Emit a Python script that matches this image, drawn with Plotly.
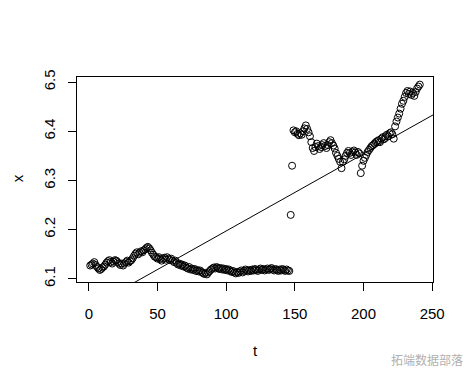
import numpy as np
import plotly.graph_objects as go

x_values = [
    6.127, 6.129, 6.131, 6.134, 6.128, 6.124, 6.121, 6.118, 6.120, 6.123,
    6.125, 6.129, 6.133, 6.136, 6.138, 6.134, 6.131, 6.135, 6.138, 6.137,
    6.134, 6.131, 6.128, 6.131, 6.127, 6.131, 6.134, 6.137, 6.133, 6.136,
    6.138, 6.142, 6.147, 6.151, 6.154, 6.150, 6.153, 6.156, 6.154, 6.158,
    6.160, 6.163, 6.165, 6.162, 6.158, 6.153, 6.149, 6.145, 6.144, 6.141,
    6.144, 6.140, 6.137, 6.141, 6.143, 6.139, 6.144, 6.141, 6.138, 6.141,
    6.137, 6.134, 6.137, 6.132, 6.129, 6.131, 6.127, 6.129, 6.125, 6.127,
    6.123, 6.121, 6.124, 6.119, 6.121, 6.118, 6.120, 6.116, 6.118, 6.115,
    6.117, 6.114, 6.112, 6.110, 6.112, 6.109, 6.113, 6.116, 6.119, 6.121,
    6.123, 6.121, 6.124, 6.122, 6.120, 6.122, 6.119, 6.121, 6.118, 6.120,
    6.117, 6.119, 6.116, 6.114, 6.116, 6.113, 6.111, 6.114, 6.112, 6.115,
    6.117, 6.113, 6.116, 6.119, 6.117, 6.115, 6.118, 6.116, 6.119, 6.117,
    6.120, 6.118, 6.116, 6.119, 6.121, 6.118, 6.120, 6.117, 6.119, 6.121,
    6.118, 6.120, 6.122, 6.119, 6.117, 6.120, 6.118, 6.116, 6.119, 6.117,
    6.120, 6.118, 6.116, 6.119, 6.117, 6.116,
    6.230, 6.330,
    6.402, 6.398, 6.400, 6.395, 6.392, 6.396, 6.393, 6.400, 6.406, 6.412, 6.405, 6.398,
    6.390, 6.378, 6.366, 6.360, 6.368, 6.375, 6.370, 6.364, 6.368, 6.372,
    6.376, 6.370, 6.366, 6.372, 6.378, 6.382, 6.376, 6.371, 6.365, 6.356,
    6.350, 6.344, 6.338, 6.325, 6.338, 6.343, 6.350, 6.356, 6.360, 6.356,
    6.352, 6.358, 6.361, 6.357, 6.352, 6.358, 6.355, 6.315, 6.330, 6.340,
    6.346, 6.352, 6.358, 6.362, 6.366, 6.370, 6.372, 6.375, 6.378, 6.380,
    6.382, 6.378, 6.385, 6.388, 6.384, 6.390, 6.393, 6.390, 6.396, 6.398,
    6.394, 6.385, 6.410, 6.420, 6.428, 6.436, 6.446, 6.456, 6.462, 6.470,
    6.478, 6.482, 6.476, 6.481, 6.474, 6.478, 6.472, 6.480, 6.487, 6.491, 6.495,
]
t_values = list(range(1, len(x_values) + 1))

x_ticks = [0, 50, 100, 150, 200, 250]
y_ticks = [6.1, 6.2, 6.3, 6.4, 6.5]
x_title = "t"
y_title = "x"
watermark = "拓端数据部落"

t_arr = np.array(t_values, dtype=float)
x_arr = np.array(x_values, dtype=float)
slope, intercept = np.polyfit(t_arr, x_arr, 1)

def r_range(v):
    lo, hi = float(np.min(v)), float(np.max(v))
    pad = 0.04 * (hi - lo)
    return [lo - pad, hi + pad]

xr = r_range(t_arr)
yr = r_range(x_arr)

line_t = [xr[0], xr[1]]
line_x = [intercept + slope * v for v in line_t]

font = "Liberation Sans, Arial, sans-serif"

fig = go.Figure()
fig.add_trace(go.Scatter(
    x=t_values, y=x_values, mode="markers",
    marker=dict(symbol="circle-open", size=7, color="black", line=dict(width=1, color="black")),
    showlegend=False, cliponaxis=False,
))
fig.add_trace(go.Scatter(
    x=line_t, y=line_x, mode="lines",
    line=dict(color="black", width=1), showlegend=False,
))

axis_common = dict(
    showgrid=False, zeroline=False, showline=True, linecolor="black", linewidth=1,
    mirror=True, ticks="outside", ticklen=8, tickwidth=1, tickcolor="black",
    tickfont=dict(family=font, size=15, color="black"),
)
fig.update_xaxes(range=xr, tickvals=x_ticks, ticktext=[str(v) for v in x_ticks],
                 ticklabelstandoff=10, **axis_common)
fig.update_yaxes(range=yr, tickvals=y_ticks, ticktext=[f"{v:.1f}" for v in y_ticks], tickangle=-90,
                 ticklabelstandoff=7, **axis_common)

fig.add_annotation(
    text=x_title, xref="paper", yref="paper", x=0.5, y=-0.332, xanchor="center", yanchor="middle",
    showarrow=False, font=dict(family=font, size=15, color="black"),
)
fig.add_annotation(
    text=y_title, xref="paper", yref="paper", x=-0.168, y=0.507, xanchor="center", yanchor="middle",
    textangle=-90, showarrow=False, font=dict(family=font, size=15, color="black"),
)
fig.add_annotation(
    text=watermark, xref="paper", yref="paper", x=0.983, y=-0.38, xanchor="center", yanchor="middle",
    showarrow=False, font=dict(family="Noto Sans CJK SC", size=12, color="#b0b0b0"),
)

fig.update_layout(
    width=466, height=371,
    margin=dict(l=69, r=41, t=69, b=97),
    paper_bgcolor="white", plot_bgcolor="white",
)

fig.write_html("out.html")
